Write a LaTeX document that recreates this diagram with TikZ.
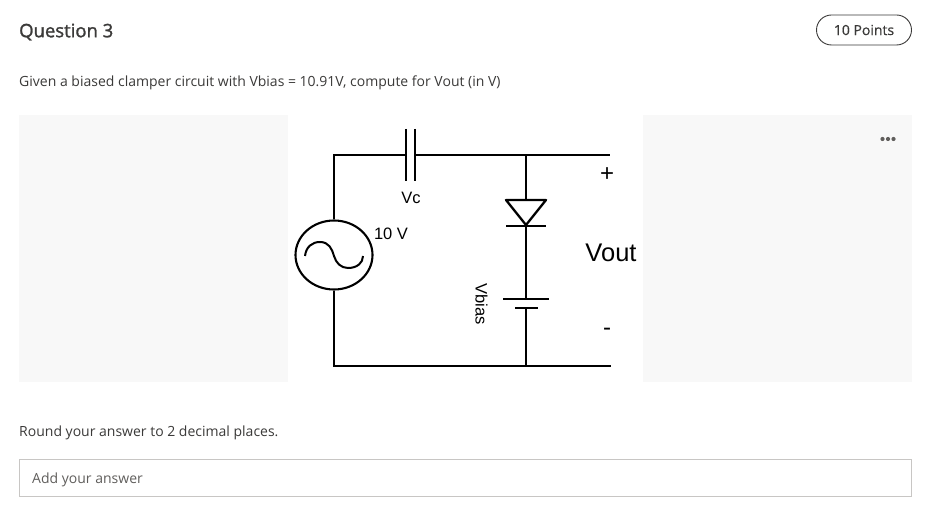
\documentclass[tikz,border=0pt]{standalone}
\usepackage{fontspec}
\setmainfont{Open Sans}
\newfontfamily\semifont[FakeBold=1.4]{Open Sans}
\newfontfamily\medfont[FakeBold=0.4]{Open Sans}
\newfontfamily\circuitfont{Liberation Sans}
\usetikzlibrary{shapes.geometric}
\definecolor{uitext}{HTML}{3B3A39}
\definecolor{uimuted}{HTML}{605E5C}
\definecolor{panel}{HTML}{F8F8F8}
\definecolor{inputedge}{HTML}{C8C6C4}
\tikzset{
 uilabel/.style={inner sep=0pt,anchor=west,text=uitext,font=\fontsize{14}{16}\selectfont},
 panelbox/.style={fill=panel,draw=none},
 wire/.style={line width=2.3pt,black},
 cirtext/.style={inner sep=0pt,text=black,font=\circuitfont\fontsize{16.5}{18}\selectfont},
}
\begin{document}
\begin{tikzpicture}[x=1pt,y=-1pt]
\useasboundingbox (0,0) rectangle (931,510);
\fill[white] (0,0) rectangle (931,510);
\node[uilabel,font=\semifont\fontsize{18.5}{20}\selectfont] (title) at (19,32) {Question 3};
\node[draw=uitext,line width=0.9pt,rounded corners=15pt,minimum width=95pt,minimum height=30pt,inner sep=0pt,text=uitext,font=\medfont\fontsize{14}{16}\selectfont] (points) at (864,30) {10 Points};
\node[uilabel] (prompt) at (19,83) {Given a biased clamper circuit with Vbias = 10.91V, compute for Vout (in V)};
\fill[panelbox] (19,115) rectangle (288,382);
\fill[panelbox] (643,115) rectangle (912,382);
\foreach \dx in {882.5,888,893.5} \fill[uimuted] (\dx,139) circle (2.1pt);
% circuit
\node[draw,line width=2.1pt,ellipse,minimum width=77pt,minimum height=69pt,inner sep=0pt] (src) at (334,255) {};
\coordinate (tl) at (334,155);
\coordinate (bl) at (334,366);
\coordinate (capL) at (406,155);
\coordinate (capR) at (415,155);
\coordinate (jt) at (526,155);
\coordinate (jb) at (526,366);
\coordinate (outT) at (610,155);
\coordinate (outB) at (611,366);
\coordinate (dTop) at (526,200);
\coordinate (dTip) at (526,226);
\coordinate (batL) at (526,299);
\coordinate (batS) at (526,308);
\draw[wire] (src.north) -- (tl) -- (capL);
\draw[wire] (capR) -- (outT);
\draw[wire] (src.south) -- (bl) -- (outB);
\draw[wire] (jt) -- (dTop);
\draw[wire] (dTip) -- (batL);
\draw[wire] (batS) -- (jb);
\draw[wire] (406,129) -- (406,181);
\draw[wire] (415,129) -- (415,181);
\draw[wire,line join=round] (506,200) -- (546,200) -- (526,225) -- cycle;
\draw[wire] (506,226) -- (546,226);
\draw[wire] (503,299) -- (549,299);
\draw[wire] (515,308) -- (538,308);
\draw[line width=2pt] (305,256) .. controls (306,247) and (312,242) .. (320,242) .. controls (329,242) and (332,249) .. (334,256) .. controls (336,263) and (341,268) .. (348,268) .. controls (357,268) and (363,263) .. (363,256);
\node[cirtext] (vc) at (411,197.5) {Vc};
\node[cirtext] (tenv) at (391,233.5) {10 V};
\node[cirtext,rotate=-90] (vbias) at (481.5,304) {Vbias};
\node[cirtext,font=\circuitfont\fontsize{25.5}{27}\selectfont] (vout) at (611,253) {Vout};
\node[cirtext,font=\circuitfont\fontsize{24}{26}\selectfont] (plus) at (607,175) {+};
\node[cirtext,font=\circuitfont\fontsize{24}{26}\selectfont] (minus) at (607,332) {-};
% answer
\node[uilabel] (round) at (19,433) {Round your answer to 2 decimal places.};
\node[draw=inputedge,line width=0.9pt,minimum width=892pt,minimum height=37.5pt,inner sep=0pt,anchor=west] (answer) at (19,478) {};
\node[uilabel,text=uimuted] (hint) at (32,480) {Add your answer};
\end{tikzpicture}
\end{document}
